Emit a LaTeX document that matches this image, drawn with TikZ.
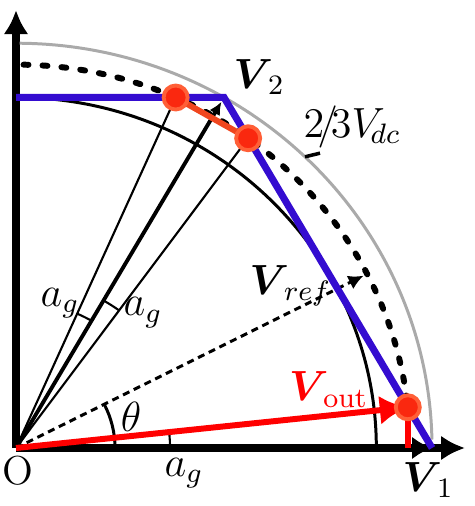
\documentclass[tikz,border=0pt]{standalone}
\usepackage{amsmath}
\usetikzlibrary{arrows.meta,calc}
\definecolor{hexblue}{RGB}{52,12,208}
\definecolor{dotred}{RGB}{250,40,15}
\definecolor{dotrim}{RGB}{255,95,55}
\definecolor{segred}{RGB}{240,70,30}
\definecolor{circgray}{RGB}{170,170,170}
\begin{document}
\begin{tikzpicture}[yscale=0.973,
  lbl/.style={inner sep=0pt,font=\fontsize{11.5}{13}\selectfont},
  ray/.style={line width=0.6pt},
  pt/.style={circle,fill=dotred,draw=dotrim,line width=1.1pt,minimum size=0.24cm,inner sep=0pt},
  axis/.style={line width=2pt,-{Latex[length=2.4mm,width=2.5mm]}}]
\useasboundingbox (-0.16,-0.596) rectangle (4.58,4.604);
\coordinate (O) at (0,0);
\coordinate (V1) at (0:4.16);
\coordinate (V2) at (60:4.16);
\coordinate (top) at (0,3.603);
\coordinate (xend) at (4.49,0);
\coordinate (yend) at (0,4.50);
\coordinate (d1) at (66.1:3.94);
\coordinate (d2) at (53.9:3.94);
\coordinate (d3) at (6.1:3.94);
\coordinate (ref) at (27:3.9);
\coordinate (tick) at (3.04,3.03);

\draw [axis] (O) -- (xend);
\draw [axis] (O) -- (yend);
\draw [circgray, line width=0.85pt] (89.5:4.16) arc [start angle=89.5, end angle=1.2, radius=4.16];
\draw [line width=0.85pt] (top) arc [start angle=90, end angle=0, radius=3.603];
\draw [line width=1.7pt, line cap=round, dash pattern=on 1.4pt off 4pt] (88.9:3.94) arc [start angle=88.9, end angle=6.1, radius=3.94];

\draw [ray] (O) -- (d1);
\draw [ray] (O) -- (d2);
\draw [line width=1.1pt, shorten >=0.5mm, -{Latex[length=1.3mm,width=1.2mm]}] (O) -- (V2);
\draw [line width=0.85pt, dash pattern=on 2pt off 1.4pt, -{Latex[length=1.5mm,width=1.5mm]}] (O) -- (ref);
\draw [line width=2pt, -{Latex[length=2mm,width=2.3mm]}] (O) -- (V1);
\draw [hexblue, line width=2pt, line join=miter] (top) -- (V2) -- (V1);

\draw [ray] (66.1:1.51) arc [start angle=66.1, end angle=60, radius=1.51];
\draw [ray] (60:1.75) arc [start angle=60, end angle=53.9, radius=1.75];
\draw [line width=0.85pt] (27:0.99) arc [start angle=27, end angle=0, radius=0.99];
\draw [ray] (6.1:1.54) arc [start angle=6.1, end angle=0, radius=1.54];

\draw [segred, line width=1.7pt] (d1) -- (d2);
\draw [red, line width=1.7pt, -{Latex[length=2.8mm,width=2.9mm]}] (O) -- (d3);
\draw [red, line width=1.7pt] (d3) -- (d3 |- O);
\node [pt] (p1) at (d1) {};
\node [pt] (p2) at (d2) {};
\node [pt] (p3) at (d3) {};

\node [lbl, anchor=west] (lV2) at (2.17,3.81) {$\boldsymbol{V}_{\!2}$};
\node [lbl, anchor=west] (lV1) at (3.86,-0.33) {$\boldsymbol{V}_{\!1}$};
\node [lbl, anchor=east, text=red] (lVout) at (3.53,0.6) {$\boldsymbol{V}_{\!\mathrm{out}}$};
\node [lbl, anchor=west] (lVref) at (2.33,1.67) {$\boldsymbol{V}_{\!ref}$};
\node [lbl, anchor=south west] (lVdc) at (2.87,3.08) {$2\!/\!3V_{\!dc}$};
\draw [line width=1pt] (46:4.16) -- (tick);
\node [lbl] (lO) at (0.02,-0.23) {O};
\node [lbl] (lag1) at (0.44,1.49) {$a_g$};
\node [lbl] (lag2) at (1.27,1.39) {$a_g$};
\node [lbl] (lag3) at (1.68,-0.26) {$a_g$};
\node [lbl] (lth) at (1.15,0.32) {$\theta$};
\end{tikzpicture}
\end{document}
